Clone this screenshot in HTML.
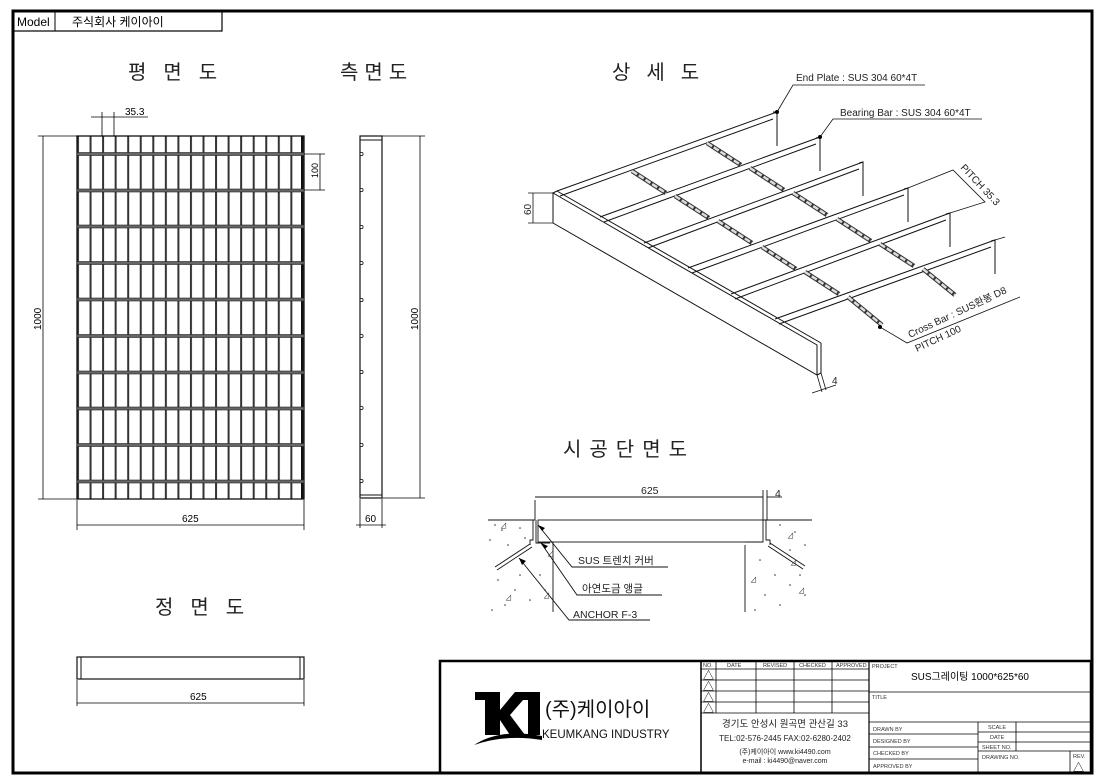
<!DOCTYPE html>
<html><head><meta charset="utf-8"><style>
html,body{margin:0;padding:0;background:#fff;}
svg{display:block;font-family:"Liberation Sans","Noto Sans CJK KR",sans-serif;}
</style></head><body>
<svg width="1103" height="782" viewBox="0 0 1103 782" xmlns="http://www.w3.org/2000/svg">
<defs>
<pattern id="bb" x="77" y="0" width="12.55" height="10" patternUnits="userSpaceOnUse">
<rect x="0" y="0" width="2" height="10" fill="#333"/>
</pattern>
</defs>
<rect width="1103" height="782" fill="#fff"/>
<rect x="13" y="11" width="1079" height="762" fill="none" stroke="#000" stroke-width="3"/>
<rect x="13" y="11" width="209" height="20" fill="none" stroke="#000" stroke-width="1.2"/>
<line x1="55" y1="11" x2="55" y2="31" stroke="#000"/>
<text x="17" y="26" font-size="12">Model</text>
<text x="72" y="26" font-size="12">주식회사 케이아이</text>

<g font-size="20" fill="#222">
<text x="128" y="79" letter-spacing="17">평면도</text>
<text x="340" y="79" letter-spacing="6">측면도</text>
<text x="612" y="79" letter-spacing="16">상세도</text>
<text x="563" y="456" letter-spacing="8">시공단면도</text>
<text x="155" y="614" letter-spacing="17">정면도</text>
</g>

<rect x="77" y="136" width="227" height="363" fill="url(#bb)"/>
<rect x="77" y="136" width="227" height="363" fill="none" stroke="#111" stroke-width="1.3"/>
<line x1="302" y1="136" x2="302" y2="499" stroke="#111" stroke-width="2"/>
<g fill="#666" stroke="#222" stroke-width="0.6">
<rect x="77" y="152.5" width="227" height="3"/><rect x="77" y="189" width="227" height="3"/>
<rect x="77" y="225" width="227" height="3"/><rect x="77" y="261.5" width="227" height="3"/>
<rect x="77" y="298" width="227" height="3"/><rect x="77" y="334.5" width="227" height="3"/>
<rect x="77" y="371" width="227" height="3"/><rect x="77" y="407" width="227" height="3"/>
<rect x="77" y="443.5" width="227" height="3"/><rect x="77" y="480" width="227" height="3"/>
</g>
<g stroke="#000" stroke-width="0.8" fill="none">
<line x1="38" y1="136" x2="77" y2="136"/><line x1="38" y1="499" x2="77" y2="499"/>
<line x1="43" y1="136" x2="43" y2="499"/>
<line x1="77" y1="500" x2="77" y2="530"/><line x1="304" y1="500" x2="304" y2="530"/>
<line x1="77" y1="525" x2="304" y2="525"/>
<line x1="102" y1="112" x2="102" y2="136"/><line x1="114" y1="112" x2="114" y2="136"/>
<line x1="91" y1="117" x2="148" y2="117"/>
<line x1="304" y1="154" x2="325" y2="154"/><line x1="304" y1="190" x2="325" y2="190"/>
<line x1="320" y1="154" x2="320" y2="190"/>
</g>
<g font-size="10">
<text x="182" y="522">625</text>
<text x="125" y="115">35.3</text>
<text transform="translate(41,330) rotate(-90)">1000</text>
<text transform="translate(318,178) rotate(-90)" font-size="9">100</text>
</g>

<rect x="360" y="136" width="22" height="362" fill="none" stroke="#111" stroke-width="1.2"/>
<line x1="360" y1="140" x2="382" y2="140" stroke="#111"/>
<line x1="360" y1="495" x2="382" y2="495" stroke="#111"/>
<g fill="#fff" stroke="#111" stroke-width="0.8">
<circle cx="361.5" cy="154" r="1.6"/><circle cx="361.5" cy="190" r="1.6"/><circle cx="361.5" cy="227" r="1.6"/>
<circle cx="361.5" cy="263" r="1.6"/><circle cx="361.5" cy="300" r="1.6"/><circle cx="361.5" cy="336" r="1.6"/>
<circle cx="361.5" cy="372" r="1.6"/><circle cx="361.5" cy="408" r="1.6"/><circle cx="361.5" cy="445" r="1.6"/>
<circle cx="361.5" cy="481" r="1.6"/>
</g>
<g stroke="#000" stroke-width="0.8">
<line x1="382" y1="136" x2="425" y2="136"/><line x1="382" y1="498" x2="425" y2="498"/>
<line x1="420" y1="136" x2="420" y2="498"/>
<line x1="360" y1="499" x2="360" y2="528"/><line x1="382" y1="499" x2="382" y2="528"/>
<line x1="356" y1="525" x2="386" y2="525"/>
</g>
<text transform="translate(418,330) rotate(-90)" font-size="10">1000</text>
<text x="365" y="522" font-size="10">60</text>

<rect x="77" y="657" width="227" height="22" fill="none" stroke="#111" stroke-width="1.2"/>
<line x1="81" y1="657" x2="81" y2="679" stroke="#111"/><line x1="300" y1="657" x2="300" y2="679" stroke="#111"/>
<g stroke="#000" stroke-width="0.8">
<line x1="77" y1="680" x2="77" y2="706"/><line x1="304" y1="680" x2="304" y2="706"/>
<line x1="77" y1="703" x2="304" y2="703"/>
</g>
<text x="190" y="700" font-size="10">625</text>

<g stroke="#111" stroke-width="1" fill="none">
<polygon points="553,193 817,345 817,375 553,223" fill="#fff"/>
<line x1="553" y1="193" x2="557" y2="191"/><line x1="557" y1="191" x2="821" y2="343"/><line x1="821" y1="343" x2="821" y2="373"/><line x1="817" y1="375" x2="821" y2="373"/>
<polyline points="557,191 777,112 777,146"/><line x1="560" y1="196" x2="773" y2="119"/><line x1="773" y1="112" x2="777" y2="112"/>
<polyline points="600,217 820,137 820,171"/><line x1="604" y1="222" x2="816" y2="144"/><line x1="816" y1="138" x2="820" y2="137"/>
<polyline points="644,243 863,162 863,196"/><line x1="648" y1="248" x2="859" y2="169"/><line x1="859" y1="163" x2="863" y2="162"/>
<polyline points="688,268 908,188 908,222"/><line x1="692" y1="273" x2="904" y2="195"/><line x1="904" y1="189" x2="908" y2="188"/>
<polyline points="731,294 950,213 950,247"/><line x1="735" y1="299" x2="946" y2="220"/><line x1="946" y1="214" x2="950" y2="213"/>
<polyline points="775,319 995,240 995,274"/><line x1="779" y1="324" x2="991" y2="247"/><line x1="991" y1="241" x2="995" y2="240"/>
</g>
<g stroke-linecap="butt">
<g stroke="#333" stroke-width="4.5">
<line x1="632" y1="171" x2="666" y2="193"/><line x1="675" y1="196" x2="709" y2="218"/><line x1="718" y1="221" x2="752" y2="243"/><line x1="762" y1="247" x2="796" y2="269"/><line x1="805" y1="272" x2="839" y2="294"/><line x1="848" y1="297" x2="882" y2="325"/>
<line x1="707" y1="143" x2="741" y2="165"/><line x1="750" y1="168" x2="784" y2="190"/><line x1="793" y1="193" x2="827" y2="215"/><line x1="837" y1="219" x2="871" y2="241"/><line x1="880" y1="244" x2="914" y2="266"/><line x1="923" y1="269" x2="955" y2="295"/>
</g>
<g stroke="#ddd" stroke-width="2.5" stroke-dasharray="6 2">
<line x1="632" y1="171" x2="666" y2="193"/><line x1="675" y1="196" x2="709" y2="218"/><line x1="718" y1="221" x2="752" y2="243"/><line x1="762" y1="247" x2="796" y2="269"/><line x1="805" y1="272" x2="839" y2="294"/><line x1="848" y1="297" x2="882" y2="325"/>
<line x1="707" y1="143" x2="741" y2="165"/><line x1="750" y1="168" x2="784" y2="190"/><line x1="793" y1="193" x2="827" y2="215"/><line x1="837" y1="219" x2="871" y2="241"/><line x1="880" y1="244" x2="914" y2="266"/><line x1="923" y1="269" x2="955" y2="295"/>
</g>
</g>
<g stroke="#111" stroke-width="0.8" fill="none">
<polyline points="777,112 793,85 925,85"/>
<polyline points="820,137 833,119 982,119"/>
<polyline points="908,188 953,170 985,202 950,213"/>
<polyline points="880,327 907,343 1020,297"/>
<line x1="995" y1="240" x2="1005" y2="237"/>
<line x1="528" y1="193" x2="553" y2="193"/><line x1="528" y1="223" x2="553" y2="223"/><line x1="533" y1="193" x2="533" y2="223"/>
<line x1="817" y1="375" x2="822" y2="392"/><line x1="821" y1="373" x2="826" y2="390"/><line x1="812" y1="393" x2="836" y2="385"/>
</g>
<circle cx="777" cy="112" r="2" fill="#000"/><circle cx="820" cy="137" r="2" fill="#000"/><circle cx="880" cy="327" r="2" fill="#000"/>
<g font-size="10" fill="#222">
<text x="796" y="81">End Plate : SUS 304 60*4T</text>
<text x="840" y="116">Bearing Bar : SUS 304 60*4T</text>
<text transform="translate(960,168) rotate(47)">PITCH 35.3</text>
<text transform="translate(910,338) rotate(-25)">Cross Bar : SUS환봉 D8</text>
<text transform="translate(917,352) rotate(-25)">PITCH 100</text>
<text transform="translate(531,215) rotate(-90)">60</text>
<text x="832" y="384">4</text>
</g>

<g stroke="#111" stroke-width="0.9" fill="none">
<line x1="488" y1="520" x2="535" y2="520"/><line x1="763" y1="520" x2="812" y2="520"/>
<rect x="538" y="520" width="225" height="22"/>
<line x1="535" y1="500" x2="535" y2="520"/><line x1="763" y1="490" x2="763" y2="520"/><line x1="767" y1="490" x2="767" y2="520"/>
<line x1="535" y1="497" x2="763" y2="497"/><line x1="767" y1="497" x2="782" y2="497"/>
<polyline points="533,520 533,540 530,540 530,545"/><polyline points="536,520 536,543 550,543"/>
<polyline points="766,520 766,540 770,540 770,545"/><polyline points="763,542 745,542"/>
<line x1="495" y1="567" x2="530" y2="544"/><line x1="497" y1="570" x2="532" y2="547"/>
<line x1="770" y1="543" x2="805" y2="566"/><line x1="768" y1="546" x2="803" y2="569"/>
<line x1="553" y1="542" x2="553" y2="612"/><line x1="745" y1="545" x2="745" y2="612"/>
<polyline points="538,525 572,567 668,567"/>
<polyline points="541,543 577,595 662,595"/>
<polyline points="519,558 569,620 650,620"/>
</g>
<g fill="#000"><polygon points="538,525 542,531 545,528"/><polygon points="541,543 545,549 548,546"/><polygon points="519,558 522,565 526,561"/></g>
<g font-size="10.5" fill="#222">
<text x="641" y="494">625</text><text x="775" y="497">4</text>
<text x="578" y="564">SUS 트렌치 커버</text>
<text x="582" y="592">아연도금 앵글</text>
<text x="573" y="618">ANCHOR F-3</text>
</g>
<g fill="#333" font-size="7">
<circle cx="495" cy="525" r="0.8"/><circle cx="502" cy="530" r="0.8"/><circle cx="520" cy="528" r="0.8"/><circle cx="490" cy="540" r="0.8"/><circle cx="508" cy="545" r="0.8"/><circle cx="525" cy="538" r="0.8"/><circle cx="498" cy="580" r="0.8"/><circle cx="515" cy="590" r="0.8"/><circle cx="530" cy="600" r="0.8"/><circle cx="505" cy="605" r="0.8"/><circle cx="540" cy="575" r="0.8"/><circle cx="545" cy="590" r="0.8"/><circle cx="520" cy="575" r="0.8"/><circle cx="492" cy="610" r="0.8"/>
<circle cx="780" cy="525" r="0.8"/><circle cx="795" cy="532" r="0.8"/><circle cx="805" cy="545" r="0.8"/><circle cx="790" cy="550" r="0.8"/><circle cx="760" cy="560" r="0.8"/><circle cx="775" cy="575" r="0.8"/><circle cx="790" cy="585" r="0.8"/><circle cx="805" cy="595" r="0.8"/><circle cx="765" cy="595" r="0.8"/><circle cx="755" cy="610" r="0.8"/><circle cx="780" cy="605" r="0.8"/><circle cx="800" cy="575" r="0.8"/>
<text x="500" y="528">⊿</text><text x="547" y="556">⊿</text><text x="505" y="600">⊿</text><text x="543" y="598">⊿</text><text x="787" y="538">⊿</text><text x="750" y="582">⊿</text><text x="798" y="593">⊿</text><text x="790" y="565">⊿</text>
</g>

<g stroke="#000" fill="none">
<rect x="440" y="661" width="651" height="112" stroke-width="2.5"/>
<line x1="701" y1="661" x2="701" y2="773" stroke-width="1.5"/>
<line x1="869" y1="661" x2="869" y2="773" stroke-width="1.2"/>
<g stroke-width="0.8">
<line x1="701" y1="669" x2="869" y2="669"/><line x1="701" y1="680" x2="869" y2="680"/><line x1="701" y1="691" x2="869" y2="691"/><line x1="701" y1="702" x2="869" y2="702"/><line x1="701" y1="713" x2="869" y2="713"/>
<line x1="716" y1="661" x2="716" y2="713"/><line x1="756" y1="661" x2="756" y2="713"/><line x1="794" y1="661" x2="794" y2="713"/><line x1="832" y1="661" x2="832" y2="713"/>
<line x1="869" y1="692" x2="1091" y2="692"/><line x1="869" y1="722" x2="1091" y2="722"/>
<line x1="869" y1="734" x2="978" y2="734"/><line x1="869" y1="747" x2="978" y2="747"/><line x1="869" y1="759" x2="978" y2="759"/>
<line x1="978" y1="722" x2="978" y2="773"/><line x1="1016" y1="722" x2="1016" y2="751"/>
<line x1="978" y1="732" x2="1091" y2="732"/><line x1="978" y1="742" x2="1091" y2="742"/><line x1="978" y1="751" x2="1091" y2="751"/>
<line x1="1070" y1="751" x2="1070" y2="773"/>
</g>
</g>
<g font-size="5.5" fill="#333">
<text x="703" y="667">NO.</text><text x="727" y="667">DATE</text><text x="763" y="667">REVISED</text><text x="799" y="667">CHECKED</text><text x="836" y="667">APPROVED</text>
<text x="872" y="668">PROJECT</text><text x="872" y="699">TITLE</text>
<text x="873" y="731">DRAWN BY</text><text x="873" y="743">DESIGNED BY</text><text x="873" y="755">CHECKED BY</text><text x="873" y="768">APPROVED BY</text>
<text x="988" y="729">SCALE</text><text x="990" y="739">DATE</text><text x="982" y="749">SHEET NO.</text><text x="982" y="759">DRAWING NO.</text><text x="1073" y="758">REV.</text>
</g>
<g font-size="11" fill="#000">
<text x="703" y="679">△</text><text x="703" y="690">△</text><text x="703" y="701">△</text><text x="703" y="712">△</text><text x="1073" y="771">△</text>
</g>
<text x="911" y="680" font-size="10">SUS그레이팅 1000*625*60</text>
<g fill="#222" text-anchor="middle">
<text x="785" y="727" font-size="9.5">경기도 안성시 원곡면 관산길 33</text>
<text x="785" y="741" font-size="8">TEL:02-576-2445  FAX:02-6280-2402</text>
<text x="785" y="754" font-size="7">(주)케이아이  www.ki4490.com</text>
<text x="785" y="763" font-size="7">e-mail : ki4490@naver.com</text>
</g>
<g fill="#000">
<polygon points="475,692 500,692 500,710 515,692 530,692 510,715 525,735 510,735 500,720 500,735 485,735 485,700 475,700"/>
<polygon points="522,692 540,692 540,735 528,735 528,700 522,700"/>
<path d="M474,745 Q500,728 542,736 L542,740 Q505,734 474,745 Z"/>
</g>
<text x="545" y="716" font-size="20" fill="#111">(주)케이아이</text>
<text x="542" y="738" font-size="11.5" fill="#111">KEUMKANG INDUSTRY</text>
</svg>
</body></html>
